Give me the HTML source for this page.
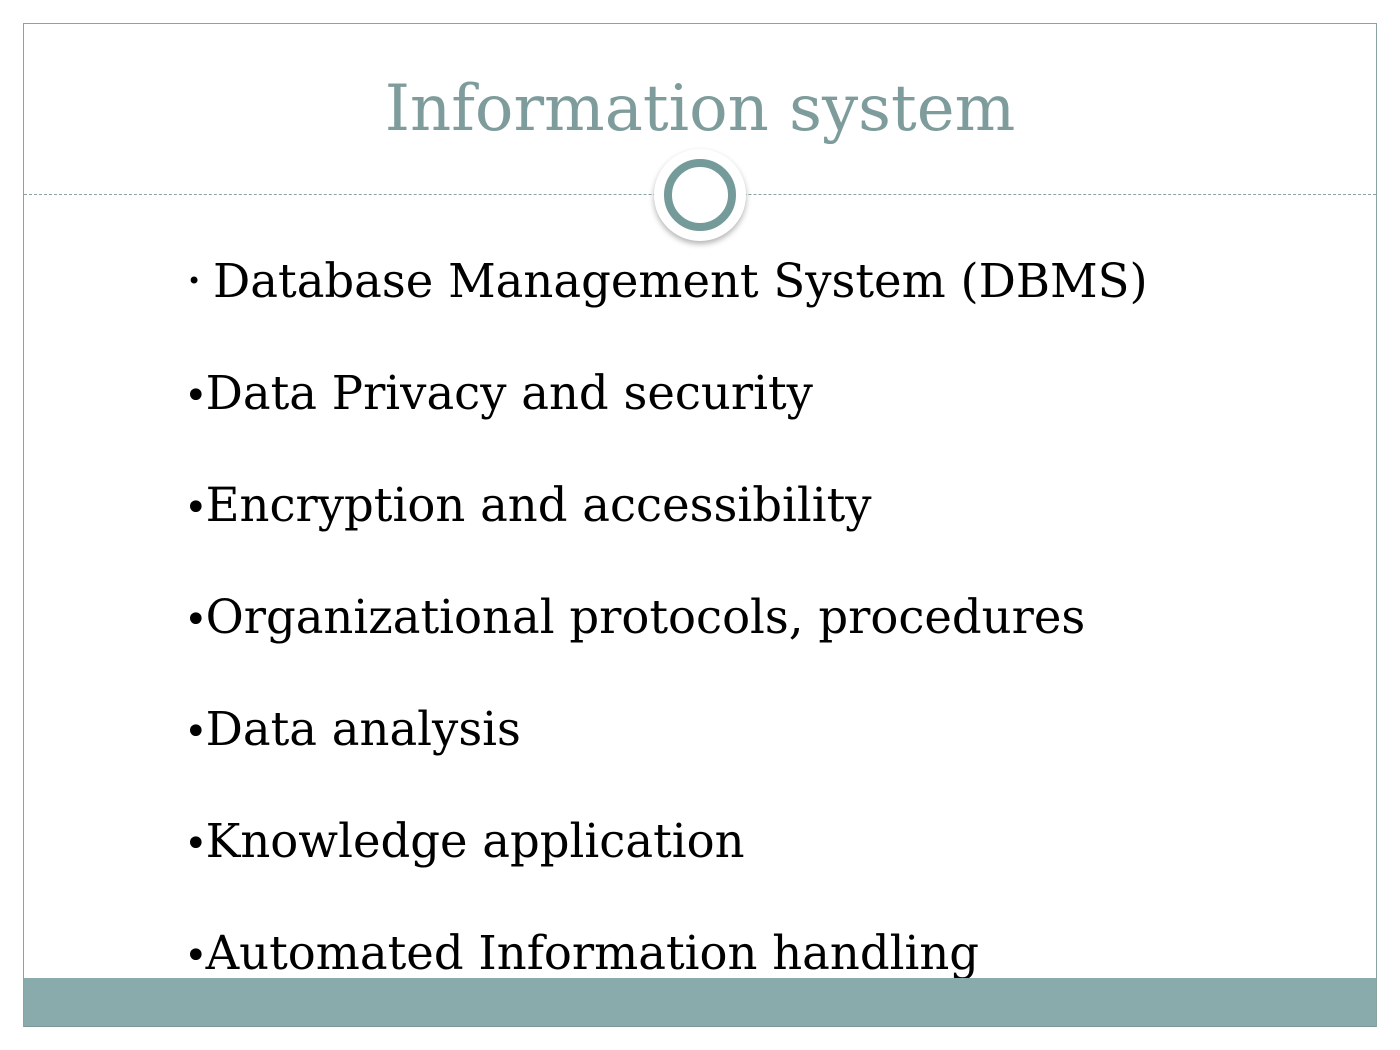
<!DOCTYPE html>
<html><head><meta charset="utf-8"><style>
body{margin:0;width:1400px;height:1050px;background:#fff;position:relative;overflow:hidden;font-family:"DejaVu Serif","Liberation Serif",serif}
.frame{position:absolute;left:23px;top:23px;width:1352px;height:1002px;border:1px solid #8aa3a3}
.band{position:absolute;left:24px;top:978px;width:1352px;height:48px;background:#8aabab;border-bottom:1px solid #7a9696}
.dash{position:absolute;left:24px;top:194px;width:1352px;border-top:1px dashed #8aa3a3}
.title{position:absolute;left:0;width:1400px;top:64px;text-align:center;font-size:64px;color:#7f9c9c;line-height:90px}
.circ{position:absolute;left:654px;top:149px;width:92px;height:92px;border-radius:50%;background:#fff;box-shadow:0 3px 6px rgba(0,0,0,.3)}
.ring{position:absolute;left:664px;top:159px;width:56px;height:56px;border-radius:50%;border:8px solid #759a9a;background:#fff}
.l{position:absolute;left:187px;font-size:46.5px;line-height:60px;color:#000;white-space:nowrap}
.b{font-size:40px;margin-left:-3px;margin-right:-2px}
</style></head><body>
<div class="frame"></div>
<div class="dash"></div>
<div class="title">Information system</div>
<div class="circ"></div><div class="ring"></div>
<div class="l" style="top:251px;left:187px"><span style="font-size:24px;vertical-align:12px">•</span></div>
<div class="l" style="top:251px;left:213px">Database Management System (DBMS)</div>
<div class="l" style="top:363px"><span class="b">•</span>Data Privacy and security</div>
<div class="l" style="top:475px"><span class="b">•</span>Encryption and accessibility</div>
<div class="l" style="top:587px"><span class="b">•</span>Organizational protocols, procedures</div>
<div class="l" style="top:699px"><span class="b">•</span>Data analysis</div>
<div class="l" style="top:811px"><span class="b">•</span>Knowledge application</div>
<div class="l" style="top:923px"><span class="b">•</span>Automated Information handling</div>
<div class="band"></div>
</body></html>
